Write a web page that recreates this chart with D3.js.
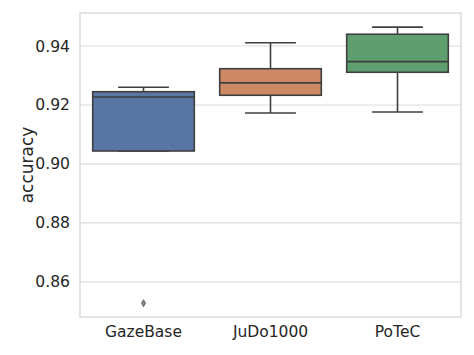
<!DOCTYPE html>
<html><head><meta charset="utf-8">
<script src="https://cdn.jsdelivr.net/npm/d3@7"></script>
<style>body{margin:0;background:#fff}svg{display:block}text{font-family:"DejaVu Sans",sans-serif;fill:#262626}</style>
</head><body>
<script>
const categories = ["GazeBase", "JuDo1000", "PoTeC"];
const whiskerLow  = [0.9044, 0.9173, 0.9176];
const q1          = [0.9044, 0.9233, 0.9311];
const median      = [0.9227, 0.9275, 0.9347];
const q3          = [0.9245, 0.9323, 0.9440];
const whiskerHigh = [0.9260, 0.9411, 0.9464];
const outliers    = [[0.8528], [], []];
const colors = ["#5975a4", "#cc8963", "#5f9e6e"];
const yTicks = [0.86, 0.88, 0.90, 0.92, 0.94];

const W = 474, H = 355;
const m = {left: 80, right: 13, top: 13, bottom: 38};
const svg = d3.select("body").append("svg").attr("width", W).attr("height", H);
const x = d3.scaleBand().domain(categories).range([m.left, W - m.right]).paddingInner(0).paddingOuter(0);
const y = d3.scaleLinear().domain([0.8481, 0.9512]).range([H - m.bottom, m.top]);

// grid
svg.append("g").selectAll("line").data(yTicks).join("line")
  .attr("x1", m.left).attr("x2", W - m.right)
  .attr("y1", d => y(d)).attr("y2", d => y(d))
  .attr("stroke", "#dcdcdc").attr("stroke-width", 1.2);

// spines
svg.append("rect").attr("x", m.left).attr("y", m.top)
  .attr("width", W - m.left - m.right).attr("height", H - m.top - m.bottom)
  .attr("fill", "none").attr("stroke", "#d6d6d6").attr("stroke-width", 1.3);

// axes
const yAxis = svg.append("g").attr("transform", `translate(${m.left},0)`)
  .call(d3.axisLeft(y).tickValues(yTicks).tickFormat(d3.format(".2f")).tickSize(0).tickPadding(10));
yAxis.select(".domain").remove();
yAxis.selectAll("text").style("font-size", "15.6px").attr("fill", "#262626");

const xAxis = svg.append("g").attr("transform", `translate(0,${H - m.bottom})`)
  .call(d3.axisBottom(x).tickSize(0).tickPadding(9));
xAxis.select(".domain").remove();
xAxis.selectAll("text").style("font-size", "15.5px").attr("fill", "#262626");

svg.append("text").attr("transform", `translate(32.5,${(m.top + H - m.bottom) / 2}) rotate(-90)`)
  .attr("text-anchor", "middle").style("font-size", "17px").text("accuracy");

const bw = x.bandwidth() * 0.8;
const lc = "#3f3f3f", lw = 1.6;
categories.forEach((c, i) => {
  const cx = x(c) + x.bandwidth() / 2;
  const g = svg.append("g");
  // whiskers
  g.append("line").attr("x1", cx).attr("x2", cx).attr("y1", y(q3[i])).attr("y2", y(whiskerHigh[i])).attr("stroke", lc).attr("stroke-width", lw);
  g.append("line").attr("x1", cx).attr("x2", cx).attr("y1", y(q1[i])).attr("y2", y(whiskerLow[i])).attr("stroke", lc).attr("stroke-width", lw);
  g.append("line").attr("x1", cx - bw / 4).attr("x2", cx + bw / 4).attr("y1", y(whiskerHigh[i])).attr("y2", y(whiskerHigh[i])).attr("stroke", lc).attr("stroke-width", lw);
  g.append("line").attr("x1", cx - bw / 4).attr("x2", cx + bw / 4).attr("y1", y(whiskerLow[i])).attr("y2", y(whiskerLow[i])).attr("stroke", lc).attr("stroke-width", lw);
  // box
  g.append("rect").attr("x", cx - bw / 2).attr("width", bw)
    .attr("y", y(q3[i])).attr("height", y(q1[i]) - y(q3[i]))
    .attr("fill", colors[i]).attr("stroke", lc).attr("stroke-width", lw);
  g.append("line").attr("x1", cx - bw / 2).attr("x2", cx + bw / 2).attr("y1", y(median[i])).attr("y2", y(median[i])).attr("stroke", lc).attr("stroke-width", lw);
  // outliers
  g.selectAll("path.out").data(outliers[i]).join("path")
    .attr("d", "M0,-3.5L2,0L0,3.5L-2,0Z")
    .attr("transform", d => `translate(${cx},${y(d)})`)
    .attr("fill", "#8a8a8a").attr("stroke", lc).attr("stroke-width", 0.7);
});
</script>
</body></html>
